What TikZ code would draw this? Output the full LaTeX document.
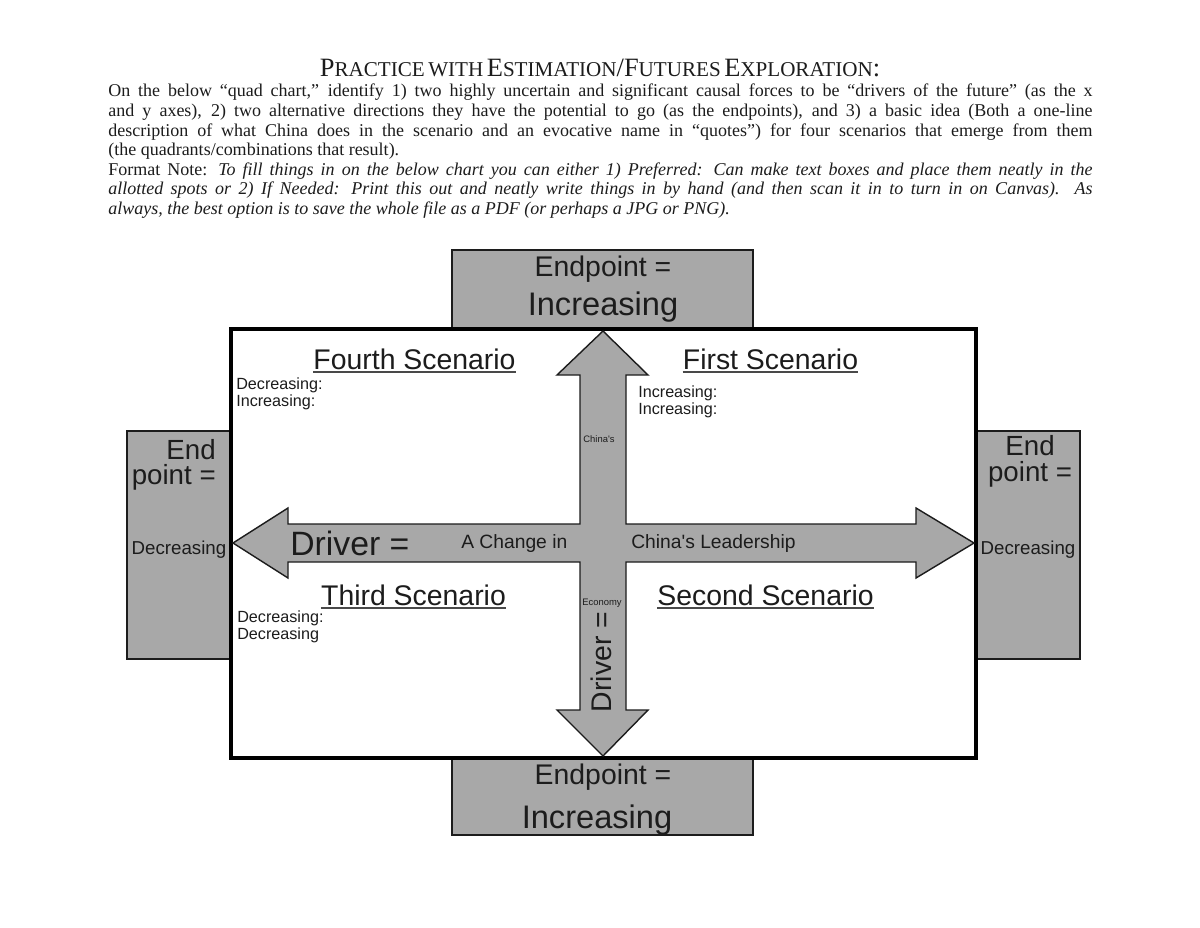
\documentclass[tikz,border=0pt]{standalone}
\usepackage{fontspec}
\setmainfont{Liberation Serif}
\setsansfont{Liberation Sans}
\newfontfamily\arial{Liberation Sans}
\newcommand{\fz}[1]{\fontsize{#1}{#1}\selectfont}
\newcommand{\bigsc}[2]{{\fz{18.8}#1}{\fz{15}#2}}
\definecolor{bxgray}{RGB}{168,168,168}
\definecolor{ink}{RGB}{28,28,28}
\tikzset{
  sidebox/.style={draw=ink, line width=1pt, fill=bxgray},
  crossshape/.style={draw=ink, line width=1pt, fill=bxgray, line join=miter},
  lab/.style={inner sep=0pt, text=ink},
  ul/.style={draw=ink!80, line width=1.2pt},
}
\begin{document}
\begin{tikzpicture}[x=0.025cm, y=-0.025cm]
\useasboundingbox[fill=white] (0,0) rectangle (1200,927);

% heading
\node[lab, anchor=base] (title) at (600,76)
  {\bigsc{P}{RACTICE} \bigsc{}{WITH} \bigsc{E}{STIMATION}{\fz{18.8}/}\bigsc{F}{UTURES} \bigsc{E}{XPLORATION}{\fz{18.8}:}};
\node[lab, anchor=north west, text width=24.6cm, align=justify,
      font=\fontsize{12.8}{13.9}\selectfont] (para) at (108,84)
  {\tolerance=10000\hyphenpenalty=10000
   On the below “quad chart,” identify 1) two highly uncertain and significant causal forces to be “drivers of the future” (as the x\linebreak
   and y axes), 2) two alternative directions they have the potential to go (as the endpoints), and 3) a basic idea (Both a one-line\linebreak
   description of what China does in the scenario and an evocative name in “quotes") for four scenarios that emerge from them\linebreak
   (the quadrants/combinations that result).\par
   Format Note: \textit{To fill things in on the below chart you can either 1) Preferred: Can make text boxes and place them neatly in the\linebreak
   allotted spots or 2) If Needed: Print this out and neatly write things in by hand (and then scan it in to turn in on Canvas). As\linebreak
   always, the best option is to save the whole file as a PDF (or perhaps a JPG or PNG).}};

% endpoint boxes
\draw[sidebox] (452,250) rectangle (753,329);
\draw[sidebox] (452,758) rectangle (753,835);
\draw[sidebox] (127,431) rectangle (231,659);
\draw[sidebox] (976,431) rectangle (1080,659);

% quad frame
\draw[line width=2.8pt, draw=black] (231,329) rectangle (976,758);

% cross of arrows
\draw[crossshape]
  (603,331) -- (648,375) -- (626,375) -- (626,524) -- (916,524) -- (916,508)
  -- (974,543) -- (916,578) -- (916,562) -- (626,562) -- (626,710) -- (648,710)
  -- (603,756) -- (557,710) -- (580,710) -- (580,562) -- (288,562) -- (288,578)
  -- (233,543) -- (288,508) -- (288,524) -- (580,524) -- (580,375) -- (557,375) -- cycle;

% endpoint texts
\node[lab, anchor=base, font=\arial\fz{20.2}] (tEp) at (603,276) {Endpoint =};
\node[lab, anchor=base, font=\arial\fz{23.2}] (tInc) at (603,315) {Increasing};
\node[lab, anchor=base, font=\arial\fz{20.2}] (bEp) at (603,784) {Endpoint =};
\node[lab, anchor=base, font=\arial\fz{23.2}] (bInc) at (597,828) {Increasing};
\node[lab, anchor=base east, font=\arial\fz{19.7}] (lEnd) at (216,459) {End};
\node[lab, anchor=base east, font=\arial\fz{19.7}] (lPt) at (216,484) {point =};
\node[lab, anchor=base, font=\arial\fz{13.3}] (lDec) at (179,554) {Decreasing};
\node[lab, anchor=base, font=\arial\fz{19.7}] (rEnd) at (1030,455) {End};
\node[lab, anchor=base, font=\arial\fz{19.7}] (rPt) at (1030,481) {point =};
\node[lab, anchor=base, font=\arial\fz{13.3}] (rDec) at (1028,554) {Decreasing};

% driver texts
\node[lab, anchor=base west, font=\arial\fz{24}] (hDrv) at (290,555) {Driver =};
\node[lab, anchor=base west, font=\arial\fz{13.7}] (hA) at (461,548) {A Change in};
\node[lab, anchor=base west, font=\arial\fz{13.7}] (hB) at (631,548) {China's Leadership};
\node[lab, rotate=90, font=\arial\fz{20.2}] (vDrv) at (601,662) {Driver =};
\node[lab, font=\arial\fz{6.7}] (vA) at (599,439) {China's};
\node[lab, font=\arial\fz{6.7}] (vB) at (602,603) {Economy};

% scenario titles
\node[lab, anchor=base, font=\arial\fz{20.2}] (s4) at (414.5,369) {Fourth Scenario};
\node[lab, anchor=base, font=\arial\fz{20.2}] (s1) at (770.5,369) {First Scenario};
\node[lab, anchor=base, font=\arial\fz{20.2}] (s3) at (413.5,605) {Third Scenario};
\node[lab, anchor=base, font=\arial\fz{20.2}] (s2) at (765.5,605) {Second Scenario};
\foreach \s in {s4,s1,s3,s2}
  \draw[ul] ([yshift=-2.3pt]\s.base west) -- ([yshift=-2.3pt]\s.base east);

% quadrant notes
\node[lab, anchor=base west, font=\arial\fz{11.5}] (q4a) at (236,389) {Decreasing:};
\node[lab, anchor=base west, font=\arial\fz{11.5}] (q4b) at (236,406) {Increasing:};
\node[lab, anchor=base west, font=\arial\fz{11.5}] (q1a) at (638,397) {Increasing:};
\node[lab, anchor=base west, font=\arial\fz{11.5}] (q1b) at (638,414) {Increasing:};
\node[lab, anchor=base west, font=\arial\fz{11.5}] (q3a) at (237,622) {Decreasing:};
\node[lab, anchor=base west, font=\arial\fz{11.5}] (q3b) at (237,639) {Decreasing};
\end{tikzpicture}
\end{document}
